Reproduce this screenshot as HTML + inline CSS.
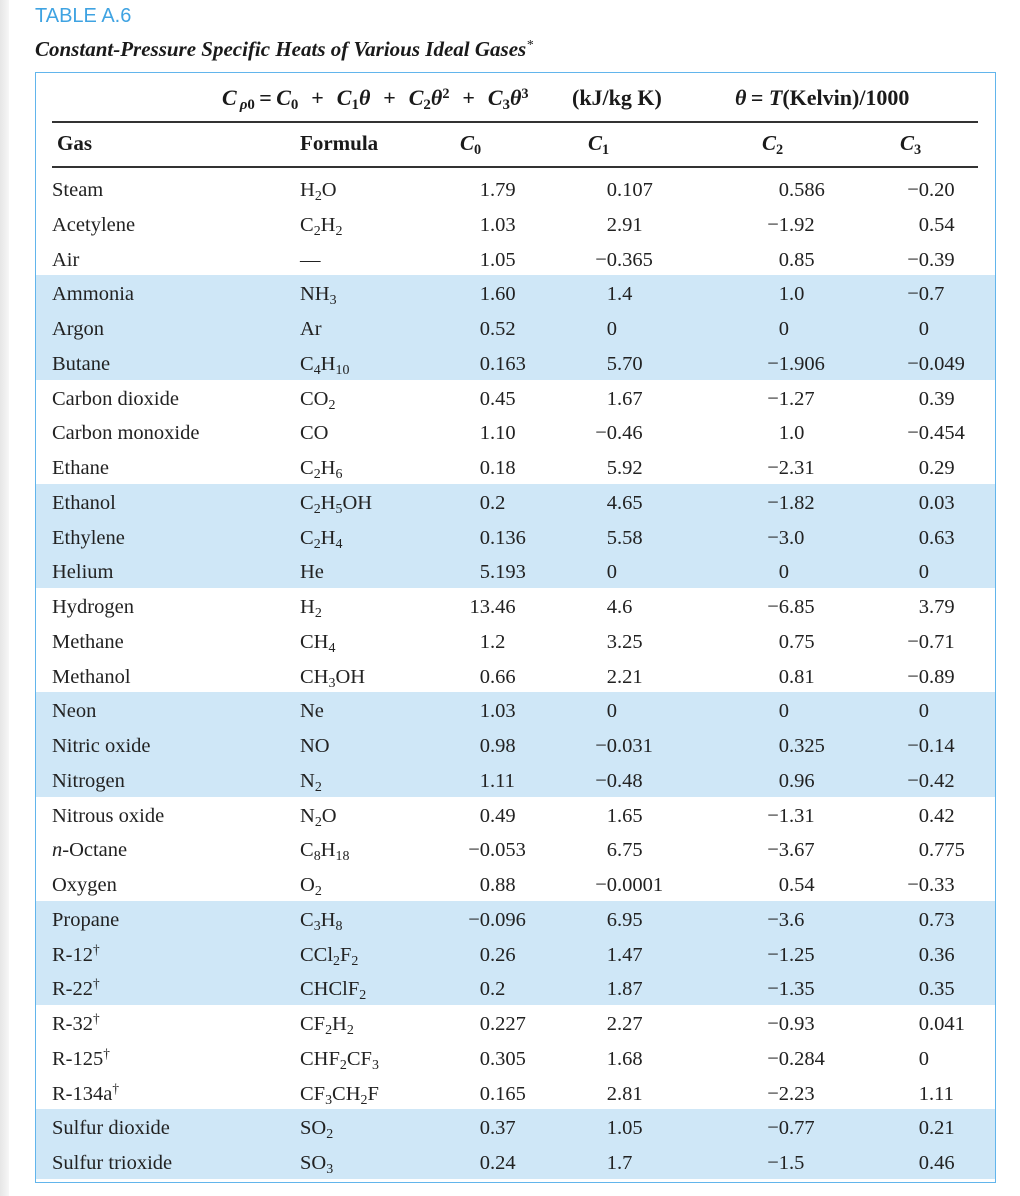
<!DOCTYPE html>
<html><head><meta charset="utf-8">
<style>
body{margin:0;width:1020px;height:1196px;background:#fff;position:relative;overflow:hidden;font-family:"Liberation Serif",serif;color:#222}
.strip{position:absolute;left:0;top:0;width:9px;height:1196px;background:linear-gradient(90deg,#e6e6e6,#f7f7f7)}
.t1{position:absolute;left:35px;top:5px;font-family:"Liberation Sans",sans-serif;font-size:20px;color:#3fa3e2}
.t2{position:absolute;left:35px;top:37px;font-size:21px;font-weight:bold;font-style:italic;color:#1a1a1a}
.box{position:absolute;left:35px;top:72px;width:961px;height:1111px;border:1.5px solid #62b5ec;box-sizing:border-box}
.eq{position:absolute;top:85px;font-size:22px;font-weight:bold;white-space:nowrap;color:#1a1a1a}
.hl{position:absolute;left:52px;width:926px;height:1.5px;background:#333}
.hd{position:absolute;top:131px;font-size:21px;font-weight:bold;color:#1a1a1a}
.row{position:absolute;left:36px;width:959px;height:35px}
.row.sh{background:#cfe7f7}
.c{position:absolute;top:7px;font-size:20.5px;white-space:nowrap;line-height:24px}
sub{font-size:68%;vertical-align:-4px;line-height:0}
sup{font-size:65%;vertical-align:7px;line-height:0}
.int{position:absolute;text-align:right;width:60px}
.fr{position:absolute}
</style></head><body>
<div class="strip"></div>
<div class="t1">TABLE A.6</div>
<div class="t2">Constant-Pressure Specific Heats of Various Ideal Gases<sup style="font-weight:normal">*</sup></div>
<div class="box"></div>
<div class="eq" style="left:222px;word-spacing:3px"><i>C</i><sub>&thinsp;<i>ρ</i>0</sub>&thinsp;=&thinsp;<i>C</i><sub>0</sub> &thinsp;+&thinsp; <i>C</i><sub>1</sub><i>θ</i> &thinsp;+&thinsp; <i>C</i><sub>2</sub><i>θ</i><sup>2</sup> &thinsp;+&thinsp; <i>C</i><sub>3</sub><i>θ</i><sup>3</sup></div>
<div class="eq" style="left:572px">(kJ/kg K)</div>
<div class="eq" style="left:735px"><i>θ</i>&thinsp;= <i>T</i>(Kelvin)/1000</div>
<div class="hl" style="top:121px"></div>
<div class="hd" style="left:57px">Gas</div>
<div class="hd" style="left:300px">Formula</div>
<div class="hd" style="left:460px"><i>C</i><sub>0</sub></div>
<div class="hd" style="left:588px"><i>C</i><sub>1</sub></div>
<div class="hd" style="left:762px"><i>C</i><sub>2</sub></div>
<div class="hd" style="left:900px"><i>C</i><sub>3</sub></div>
<div class="hl" style="top:166px"></div>
<div id="rows"></div>
<script>
const gases=["Steam","Acetylene","Air","Ammonia","Argon","Butane","Carbon dioxide","Carbon monoxide","Ethane","Ethanol","Ethylene","Helium","Hydrogen","Methane","Methanol","Neon","Nitric oxide","Nitrogen","Nitrous oxide","<i>n</i>-Octane","Oxygen","Propane","R-12<sup>†</sup>","R-22<sup>†</sup>","R-32<sup>†</sup>","R-125<sup>†</sup>","R-134a<sup>†</sup>","Sulfur dioxide","Sulfur trioxide"];
const formulas=["H<sub>2</sub>O","C<sub>2</sub>H<sub>2</sub>","—","NH<sub>3</sub>","Ar","C<sub>4</sub>H<sub>10</sub>","CO<sub>2</sub>","CO","C<sub>2</sub>H<sub>6</sub>","C<sub>2</sub>H<sub>5</sub>OH","C<sub>2</sub>H<sub>4</sub>","He","H<sub>2</sub>","CH<sub>4</sub>","CH<sub>3</sub>OH","Ne","NO","N<sub>2</sub>","N<sub>2</sub>O","C<sub>8</sub>H<sub>18</sub>","O<sub>2</sub>","C<sub>3</sub>H<sub>8</sub>","CCl<sub>2</sub>F<sub>2</sub>","CHClF<sub>2</sub>","CF<sub>2</sub>H<sub>2</sub>","CHF<sub>2</sub>CF<sub>3</sub>","CF<sub>3</sub>CH<sub>2</sub>F","SO<sub>2</sub>","SO<sub>3</sub>"];
const c0=["1.79","1.03","1.05","1.60","0.52","0.163","0.45","1.10","0.18","0.2","0.136","5.193","13.46","1.2","0.66","1.03","0.98","1.11","0.49","−0.053","0.88","−0.096","0.26","0.2","0.227","0.305","0.165","0.37","0.24"];
const c1=["0.107","2.91","−0.365","1.4","0","5.70","1.67","−0.46","5.92","4.65","5.58","0","4.6","3.25","2.21","0","−0.031","−0.48","1.65","6.75","−0.0001","6.95","1.47","1.87","2.27","1.68","2.81","1.05","1.7"];
const c2=["0.586","−1.92","0.85","1.0","0","−1.906","−1.27","1.0","−2.31","−1.82","−3.0","0","−6.85","0.75","0.81","0","0.325","0.96","−1.31","−3.67","0.54","−3.6","−1.25","−1.35","−0.93","−0.284","−2.23","−0.77","−1.5"];
const c3=["−0.20","0.54","−0.39","−0.7","0","−0.049","0.39","−0.454","0.29","0.03","0.63","0","3.79","−0.71","−0.89","0","−0.14","−0.42","0.42","0.775","−0.33","0.73","0.36","0.35","0.041","0","1.11","0.21","0.46"];
const decX=[490-36,617-36,789-36,929-36];
const rowTop=171,rowH=34.75;
const host=document.getElementById('rows');
function num(parent,val,dx,name){
  const i=val.indexOf('.');
  const ip=i<0?val:val.slice(0,i), fp=i<0?'':val.slice(i);
  const w=document.createElement('span');
  w.className='c';
  
  
  w.style.left='0';w.style.width='0';
  const a=document.createElement('span');a.className='int';a.style.left=(dx-60)+'px';a.textContent=ip;
  const b=document.createElement('span');b.className='fr';b.style.left=dx+'px';b.textContent=fp;
  w.appendChild(a);w.appendChild(b);parent.appendChild(w);
}
gases.forEach((g,k)=>{
  const r=document.createElement('div');
  r.className='row'+(Math.floor(k/3)%2===1?' sh':'');
  r.style.top=(rowTop+k*rowH)+'px';
  
  
  const a=document.createElement('span');a.className='c';a.style.left='16px';a.innerHTML=g;
  
  
  r.appendChild(a);
  const f=document.createElement('span');f.className='c';f.style.left='264px';f.innerHTML=formulas[k];
  
  
  r.appendChild(f);
  num(r,c0[k],decX[0],'c0-value');
  num(r,c1[k],decX[1],'c1-value');
  num(r,c2[k],decX[2],'c2-value');
  num(r,c3[k],decX[3],'c3-value');
  host.appendChild(r);
});
</script>
</body></html>
